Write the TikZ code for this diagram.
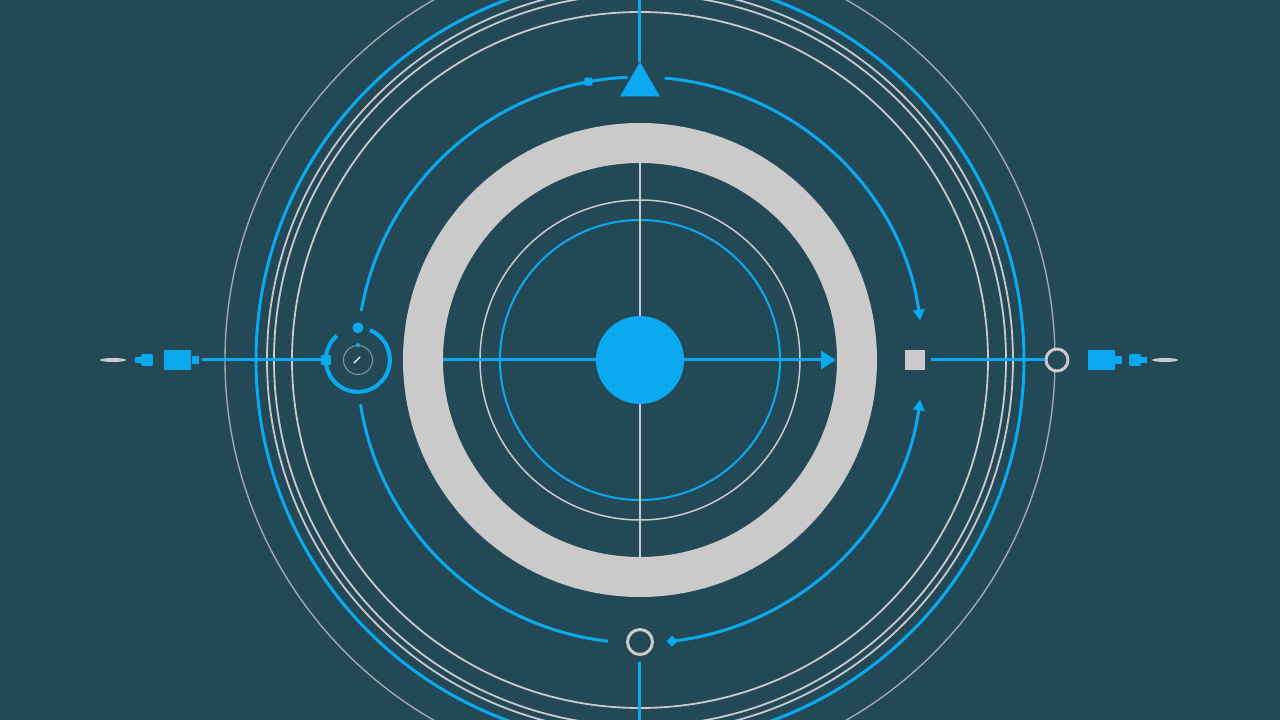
\documentclass[tikz,border=0pt]{standalone}
\usetikzlibrary{arrows.meta,shapes.geometric,positioning}
\definecolor{bgteal}{HTML}{234957}
\definecolor{ringblue}{HTML}{0BA9F0}
\definecolor{ringgray}{HTML}{CACACA}
\tikzset{hub node/.style={circle,fill=ringblue,draw=none,minimum size=88pt,inner sep=0pt},
         port box/.style={rectangle,fill=ringblue,draw=none,minimum width=27pt,minimum height=20pt,inner sep=0pt},
         port stub/.style={rectangle,fill=ringblue,draw=none,minimum width=12pt,minimum height=12pt,inner sep=0pt,rounded corners=2pt},
         tip lens/.style={ellipse,fill=ringgray,draw=none,minimum width=26pt,minimum height=4pt,inner sep=0pt},
         hollow ring/.style={circle,draw=ringgray,line width=3pt,fill=bgteal,minimum size=22pt,inner sep=0pt},
         dot mark/.style={rectangle,fill=ringblue,draw=none,minimum size=8pt,inner sep=0pt,rounded corners=1pt},
         blue line/.style={ringblue,line width=3pt},
         gray line/.style={ringgray,line width=1.8pt},
         arc tip/.style={-{Triangle[length=11pt,width=11pt]}}
}

\begin{document}
\begin{tikzpicture}[x=1pt,y=1pt]
\fill[bgteal] (-640,-360) rectangle (640,360);
\useasboundingbox (-640,-360) rectangle (640,360);
\clip (-640,-360) rectangle (640,360);

% outer rings
\draw[ringgray!75!bgteal,line width=1.4pt] (0,0) circle (415pt);
\draw[blue line] (0,0) circle (384pt);
\draw[gray line] (0,0) circle (373pt);
\draw[gray line] (0,0) circle (366pt);
\draw[gray line] (0,0) circle (348pt);

% core
\draw[ringgray,line width=40pt] (0,0) circle (217pt);
\draw[ringgray,line width=1.5pt] (0,0) circle (160pt);
\draw[ringblue,line width=2pt] (0,0) circle (140pt);
\coordinate (core top) at (0,197);
\coordinate (core bottom) at (0,-197);
\coordinate (core left) at (-197,0);
\coordinate (core right) at (196,0);
\draw[ringgray,line width=2pt] (core top) -- (core bottom);
\node[hub node] (hub) at (0,0) {};
\draw[blue line] (core left) -- (hub.west);
\draw[blue line,-{Triangle[length=15pt,width=18pt]}] (hub.east) -- (core right);

% top and bottom markers
\node[regular polygon,regular polygon sides=3,fill=ringblue,minimum size=46pt,inner sep=0pt] (top mark) at (0,275) {};
\coordinate (top edge) at (0,360);
\draw[blue line] (top edge) -- (top mark.north);
\node[hollow ring,minimum size=25pt] (bottom mark) at (0,-282) {};
\coordinate (bottom edge) at (0,-360);
\draw[blue line] (0,-302) -- (bottom edge);

% orbit arcs
\coordinate (orbit a) at (170:283pt);
\coordinate (orbit b) at (85:283pt);
\coordinate (orbit c) at (189:283pt);
\coordinate (orbit d) at (276.5:283pt);
\draw[blue line] (orbit a) arc[start angle=170,end angle=92.5,radius=283pt];
\draw[blue line,arc tip] (orbit b) arc[start angle=85,end angle=8,radius=283pt];
\draw[blue line] (orbit c) arc[start angle=189,end angle=263.5,radius=283pt];
\draw[blue line,arc tip] (orbit d) arc[start angle=276.5,end angle=352,radius=283pt];
\node[dot mark] (orbit dot) at (100.5:283pt) {};
\node[diamond,fill=ringblue,minimum size=11pt,inner sep=0pt] (orbit kite) at (276.5:283pt) {};

% left module
\node[circle,minimum size=64pt,inner sep=0pt] (left module) at (-282,0) {};
\draw[ringblue,line width=4pt] (left module.131) arc[start angle=131,end angle=428,radius=32pt];
\node[circle,fill=ringblue,minimum size=11pt,inner sep=0pt] (left cap) at (left module.north) {};
\node[dot mark,minimum size=10pt] (left port) at (left module.west) {};
\node[circle,draw=ringgray!60!bgteal,line width=1pt,minimum size=29pt,inner sep=0pt] (left eye) at (left module) {};
\node[circle,fill=ringblue,minimum size=4pt,inner sep=0pt] at (left eye.north) {};
\draw[white,line width=1.2pt,line cap=round] ([shift={(-4,-3)}]left eye.center) -- ([shift={(2,3)}]left eye.center);
\node[port box] (left box) at (-462,0) {};
\node[rectangle,fill=ringblue,minimum width=7pt,minimum height=8pt,inner sep=0pt,right=0pt of left box] (left neck) {};
\draw[blue line] (-438,0) -- (left port.west);
\node[port stub] (left blob) at (-493,0) {};
\node[rectangle,fill=ringblue,minimum width=6pt,minimum height=6pt,inner sep=0pt,left=0pt of left blob] {};
\node[tip lens] (left tip) at (-527,0) {};

% right module
\node[rectangle,fill=ringgray,minimum size=20pt,inner sep=0pt] (right pad) at (275,0) {};
\node[hollow ring] (right ring) at (417,0) {};
\draw[blue line] ([xshift=6pt]right pad.east) -- (right ring.west);
\node[port box] (right box) at (461,0) {};
\node[rectangle,fill=ringblue,minimum width=7pt,minimum height=8pt,inner sep=0pt,right=0pt of right box] (right neck) {};
\node[port stub] (right blob) at (495,0) {};
\node[rectangle,fill=ringblue,minimum width=6pt,minimum height=6pt,inner sep=0pt,right=0pt of right blob] {};
\node[tip lens] (right tip) at (525,0) {};
\end{tikzpicture}
\end{document}
